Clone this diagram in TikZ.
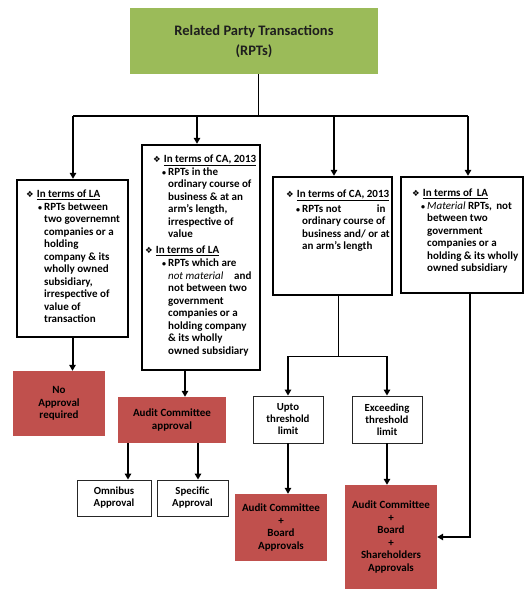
\documentclass[tikz,border=0pt]{standalone}
\usepackage{fontspec}
\setmainfont{Carlito}
\newfontfamily\symfont{DejaVu Sans}
\usetikzlibrary{arrows.meta,backgrounds}
\definecolor{rptgreen}{HTML}{9BBB59}
\definecolor{rptred}{HTML}{C0504D}
\definecolor{titletext}{HTML}{1E1E1E}
\newcommand{\dia}{{\symfont\fontsize{8.5}{8.5}\selectfont\char"2756}}
\newcommand{\hd}[1]{\dia\hspace{3pt}\underline{#1}}
\newcommand{\bu}[1]{\hspace*{#1}\makebox[6pt][l]{{\fontsize{8}{8}\selectfont\textbullet}}}
\newcommand{\ind}[1]{\hspace*{#1}\hspace*{6pt}}
\begin{document}
\begin{tikzpicture}[x=1pt,y=-1pt,
  every node/.style={font=\bfseries\fontsize{11}{12.5}\selectfont},
  tbox/.style={draw=black, line width=2.4pt, inner sep=0pt, fill=white},
  sbox/.style={draw=black!85, line width=0.9pt, inner sep=0pt, align=center, fill=white,
               font=\bfseries\fontsize{10.8}{12}\selectfont},
  rbox/.style={fill=rptred, inner sep=0pt, align=center, font=\bfseries\fontsize{11}{12.5}\selectfont},
  arr/.style={-{Triangle[length=6pt,width=6.5pt]}, line width=2pt},
  tarr/.style={-{Triangle[length=6pt,width=6.5pt]}, line width=1.2pt},
  conn/.style={line width=1pt},
  txt/.style={anchor=north west, align=left, inner sep=0pt},
  shadowline/.style={draw=black!35, dotted, line width=0.8pt}]
\fill[white] (0,0) rectangle (530,598);
\useasboundingbox (0,0) rectangle (530,598);

% top box
\node[fill=rptgreen, minimum width=248pt, minimum height=66pt, inner sep=0pt, align=center,
      text=titletext, font=\bfseries\fontsize{14.5}{20}\selectfont] (top) at (254,41)
      {Related Party Transactions\\(RPTs)};

% main boxes
\node[tbox, minimum width=111pt, minimum height=157pt] (b1) at (72.5,258.5) {};
\node[tbox, minimum width=118pt, minimum height=225pt] (b2) at (201,257.5) {};
\node[tbox, minimum width=119pt, minimum height=118pt] (b3) at (332.5,236) {};
\node[tbox, minimum width=122pt, minimum height=116pt] (b4) at (462,235) {};

% texts of main boxes
\node[txt] (t1) at (26,189.5) {\hd{In terms of LA}\\[0.5pt]
\bu{12pt}RPTs between\\
\ind{12pt}two governemnt\\
\ind{12pt}companies or a\\
\ind{12pt}holding\\
\ind{12pt}company \& its\\
\ind{12pt}wholly owned\\
\ind{12pt}subsidiary,\\
\ind{12pt}irrespective of\\
\ind{12pt}value of\\
\ind{12pt}transaction};

\node[txt] (t2) at (144,154.5) {\hspace*{9pt}\hd{In terms of CA, 2013}\\[0.5pt]
\bu{18pt}RPTs in the\\
\ind{18pt}ordinary course of\\
\ind{18pt}business \& at an\\
\ind{18pt}arm’s length,\\
\ind{18pt}irrespective of\\
\ind{18pt}value\\[3.5pt]
\hspace*{1pt}\hd{In terms of LA}\\[0.5pt]
\bu{18pt}RPTs which are\\
\ind{18pt}\setbox0\hbox{ordinary course of}\makebox[\wd0][l]{{\normalfont\itshape not material}\hfill and}\\
\ind{18pt}not between two\\
\ind{18pt}government\\
\ind{18pt}companies or a\\
\ind{18pt}holding company\\
\ind{18pt}\& its wholly\\
\ind{18pt}owned subsidiary};

\node[txt] (t3) at (286,189.5) {\hd{In terms of CA, 2013}\\[2.5pt]
\bu{10pt}\setbox0\hbox{ordinary course of}\makebox[\wd0][l]{RPTs not\hfill in}\\
\ind{10pt}ordinary course of\\
\ind{10pt}business and/ or at\\
\ind{10pt}an arm’s length};

\node[txt] (t4) at (412,188.5) {\hd{In terms of\, LA}\\[0.5pt]
\bu{9pt}{\normalfont\itshape Material} RPTs,\, not\\
\ind{9pt}between two\\
\ind{9pt}government\\
\ind{9pt}companies or a\\
\ind{9pt}holding \& its wholly\\
\ind{9pt}owned subsidiary};

% result boxes
\node[rbox, minimum width=92pt, minimum height=65pt] (noapp) at (59,403.5) {No\\Approval\\required};
\node[rbox, minimum width=108pt, minimum height=46pt] (audit) at (172,420) {Audit Committee\\approval};
\node[sbox, minimum width=74pt, minimum height=36pt] (omni) at (114,498) {Omnibus\\Approval};
\node[sbox, minimum width=71pt, minimum height=36pt] (spec) at (192.5,498) {Specific\\Approval};
\node[sbox, minimum width=70pt, minimum height=47pt] (upto) at (288,419.5) {Upto\\threshold\\limit};
\node[sbox, minimum width=70pt, minimum height=47pt] (exc) at (387,419.5) {Exceeding\\threshold\\limit};
\node[rbox, minimum width=92pt, minimum height=67pt] (redL) at (281,527.5) {Audit Committee\\+\\Board\\Approvals};
\node[rbox, minimum width=92pt, minimum height=104pt] (redR) at (391,537) {Audit Committee\\+\\Board\\+\\Shareholders\\Approvals};

% dotted shadow outlines
\begin{scope}[on background layer]
\foreach \n in {top,noapp,audit,redL,redR}{
  \draw[shadowline] ([shift={(-1,-1)}]\n.north west) rectangle ([shift={(3,3)}]\n.south east);
}
\end{scope}

% connectors
\coordinate (jt) at (258,116);
\coordinate (j1) at (73,116);
\coordinate (j2) at (197,116);
\coordinate (j3) at (334,116);
\coordinate (j4) at (468,116);
\draw[conn] ([xshift=4pt]top.south) -- (jt);
\draw[line width=1.3pt] (j1) -- (j4);
\draw[arr] (j1) -- (j1 |- b1.north);
\draw[arr] (j2) -- (j2 |- b2.north);
\draw[arr] (j3) -- (j3 |- b3.north);
\draw[arr] (j4) -- (j4 |- b4.north);

\draw[arr] (b1.south) -- (b1.south |- noapp.north);
\draw[arr] ([xshift=-16pt]b2.south) -- ([xshift=-16pt]b2.south |- audit.north);
\draw[arr] ([xshift=-44pt]audit.south) -- ([xshift=-44pt]audit.south |- omni.north);
\draw[arr] ([xshift=26pt]audit.south) -- ([xshift=26pt]audit.south |- spec.north);

\coordinate (k) at (338,356);
\draw[conn] ([xshift=5.5pt]b3.south) -- (k);
\draw[conn] (upto.north |- k) -- (exc.north |- k);
\draw[tarr] (upto.north |- k) -- (upto.north);
\draw[arr] (exc.north |- k) -- (exc.north);
\draw[tarr] (upto.south) -- (upto.south |- redL.north);
\draw[arr] (exc.south) -- (exc.south |- redR.north);
\draw[tarr] ([xshift=8pt]b4.south) |- (redR.east);
\end{tikzpicture}
\end{document}
